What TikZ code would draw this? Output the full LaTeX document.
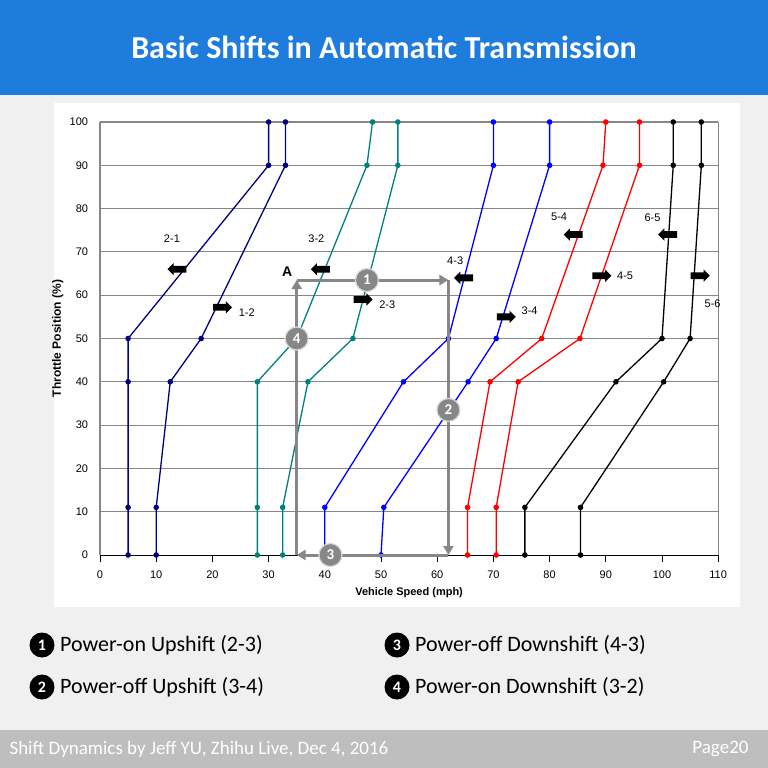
\documentclass[tikz,border=0pt]{standalone}
\usepackage{fontspec}
\setmainfont{Carlito}
\newfontfamily\chartfont{Liberation Sans}
\usetikzlibrary{positioning, shapes.arrows, arrows.meta}

\definecolor{barblue}{RGB}{30,125,220}
\definecolor{pagegray}{RGB}{240,240,240}
\definecolor{footgray}{RGB}{190,190,190}
\definecolor{gridgray}{RGB}{135,135,135}
\definecolor{navy}{RGB}{0,0,128}
\definecolor{teal2}{RGB}{0,128,128}
\definecolor{pathgray}{RGB}{135,135,135}

\begin{document}
\begin{tikzpicture}[x=1pt,y=-1pt,
    series/.style={line width=1.3pt,mark=*,mark size=2.1pt},
    shiftarrow/.style={single arrow,fill=black,draw=none,minimum height=19pt,
        inner xsep=0pt,inner ysep=3.2pt,single arrow head extend=2.8pt},
    shiftlabel/.style={font=\chartfont\fontsize{11}{12}\selectfont},
    stepmark/.style={circle,fill=pathgray,draw=white!70!gray,line width=1.2pt,
        text=white,font=\bfseries\fontsize{15}{15}\selectfont,minimum size=23pt,inner sep=0pt},
    legmark/.style={circle,fill=black,text=white,font=\bfseries\fontsize{16}{16}\selectfont,
        minimum size=25pt,inner sep=0pt},
    legtext/.style={font=\fontsize{22}{24}\selectfont,anchor=west}]

  \useasboundingbox (0,0) rectangle (768,768);
  \fill[pagegray] (0,0) rectangle (768,768);
  \fill[barblue] (0,0) rectangle (768,95);
  \node[text=white,font=\bfseries\fontsize{32}{36}\selectfont] (title) at (384,47)
    {Basic Shifts in Automatic Transmission};
  \fill[white] (54,103) rectangle (740,607);

  % chart, in mph and %
  \begin{scope}[shift={(100,555)},x=5.62pt,y=4.33pt]
    \foreach \t in {10,20,...,100}
      \draw[gridgray,line width=1.1pt] (0,\t) -- (110,\t);
    \draw[gridgray,line width=1.1pt] (110,0) -- (110,100);
    \draw[gridgray,line width=1.1pt] (0,0) -- (0,100);
    \foreach \t in {0,10,...,100}
      \node[font=\chartfont\fontsize{11}{12}\selectfont,anchor=east] at (-1.5,\t) {\t};
    \draw[black,line width=1pt] (0,0) -- (110,0);
    \foreach \v in {0,10,...,110} {
      \draw[black,line width=1pt] (\v,0) -- (\v,-1.6);
      \node[font=\chartfont\fontsize{11}{12}\selectfont] at (\v,-4.5) {\v};
    }
    \node[font=\chartfont\bfseries\fontsize{11}{12}\selectfont] (xlab) at (55,-8.8) {Vehicle Speed (mph)};
    \node[font=\chartfont\bfseries\fontsize{12}{12}\selectfont,rotate=90] (ylab) at (-7.5,50) {Throttle Position (\%)};

    % shift lines
    \draw[series,navy] plot coordinates {(5,0) (5,11) (5,40) (5,50) (30,90) (30,100)};
    \draw[series,navy] plot coordinates {(10,0) (10,11) (12.5,40) (18,50) (33,90) (33,100)};
    \draw[series,teal2] plot coordinates {(28,0) (28,11) (28,40) (35,50) (47.5,90) (48.5,100)};
    \draw[series,teal2] plot coordinates {(32.5,0) (32.5,11) (37,40) (45,50) (53,90) (53,100)};
    \draw[series,blue] plot coordinates {(40,0) (40,11) (54,40) (62,50) (70,90) (70,100)};
    \draw[series,blue] plot coordinates {(50,0) (50.5,11) (65.5,40) (70.5,50) (80,90) (80,100)};
    \draw[series,red] plot coordinates {(65.4,0) (65.4,11) (69.4,40) (78.6,50) (89.5,90) (90,100)};
    \draw[series,red] plot coordinates {(70.5,0) (70.5,11) (74.4,40) (85.4,50) (96,90) (96,100)};
    \draw[series,black] plot coordinates {(75.6,0) (75.6,11) (91.8,40) (100,50) (102,90) (102,100)};
    \draw[series,black] plot coordinates {(85.5,0) (85.5,11) (100.3,40) (105,50) (107,90) (107,100)};

    % shift arrows and labels
    \node[shiftarrow,shape border rotate=180] (a21) at (14,66) {};
    \node[shiftlabel] (l21) at (12.8,73) {2-1};
    \node[shiftarrow] (a12) at (21.5,57.2) {};
    \node[shiftlabel,right=3pt of a12,yshift=-5pt] (l12) {1-2};
    \node[shiftarrow,shape border rotate=180] (a32) at (39.5,66) {};
    \node[shiftlabel] (l32) at (38.5,73) {3-2};
    \node[shiftarrow] (a23) at (46.5,59) {};
    \node[shiftlabel,right=3pt of a23,yshift=-5pt] (l23) {2-3};
    \node[shiftarrow,shape border rotate=180] (a43) at (65,64) {};
    \node[shiftlabel] (l43) at (63.2,68) {4-3};
    \node[shiftarrow] (a34) at (72,55) {};
    \node[shiftlabel,right=2pt of a34,yshift=6pt] (l34) {3-4};
    \node[shiftarrow,shape border rotate=180] (a54) at (84.5,74) {};
    \node[shiftlabel] (l54) at (81.7,78) {5-4};
    \node[shiftarrow] (a45) at (89,64.5) {};
    \node[shiftlabel,right=2pt of a45] (l45) {4-5};
    \node[shiftarrow,shape border rotate=180] (a65) at (101.3,74) {};
    \node[shiftlabel] (l65) at (98.3,78) {6-5};
    \node[shiftarrow] (a56) at (106.5,64.5) {};
    \node[shiftlabel] (l56) at (109,58) {5-6};

    % power path A
    \coordinate (bl) at (35,0);
    \coordinate (tl) at (35,63.5);
    \coordinate (tr) at (62,63.5);
    \coordinate (br) at (62,0);
    \begin{scope}[pathgray,line width=3pt,-{Triangle[length=9pt,width=10pt]}]
      \draw (bl) -- (tl);
      \draw (tl) -- (tr);
      \draw (tr) -- (br);
      \draw (br) -- (bl);
    \end{scope}
    \node[font=\chartfont\bfseries\fontsize{14}{14}\selectfont,above left=0pt and 1pt of tl] (A) {A};
    \node[stepmark] (s1) at (47.5,63.5) {1};
    \node[stepmark] (s2) at (62,33.5) {2};
    \node[stepmark] (s3) at (41,0) {3};
    \node[stepmark] (s4) at (35,50) {4};
  \end{scope}

  % legend
  \node[legmark] (m1) at (42,645) {1};
  \node[legtext,right=2pt of m1] (t1) {Power-on Upshift (2-3)};
  \node[legmark] (m2) at (42,687) {2};
  \node[legtext,right=2pt of m2] (t2) {Power-off Upshift (3-4)};
  \node[legmark] (m3) at (397,645) {3};
  \node[legtext,right=2pt of m3] (t3) {Power-off Downshift (4-3)};
  \node[legmark] (m4) at (397,687) {4};
  \node[legtext,right=2pt of m4] (t4) {Power-on Downshift (3-2)};

  % footer
  \fill[footgray] (0,730) rectangle (768,768);
  \node[text=white,anchor=west,font=\fontsize{19}{22}\selectfont] (foot) at (6,749)
    {Shift Dynamics by Jeff YU, Zhihu Live, Dec 4, 2016};
  \node[text=white,anchor=east,font=\fontsize{19}{22}\selectfont] (page) at (752,749) {Page20};
\end{tikzpicture}
\end{document}
